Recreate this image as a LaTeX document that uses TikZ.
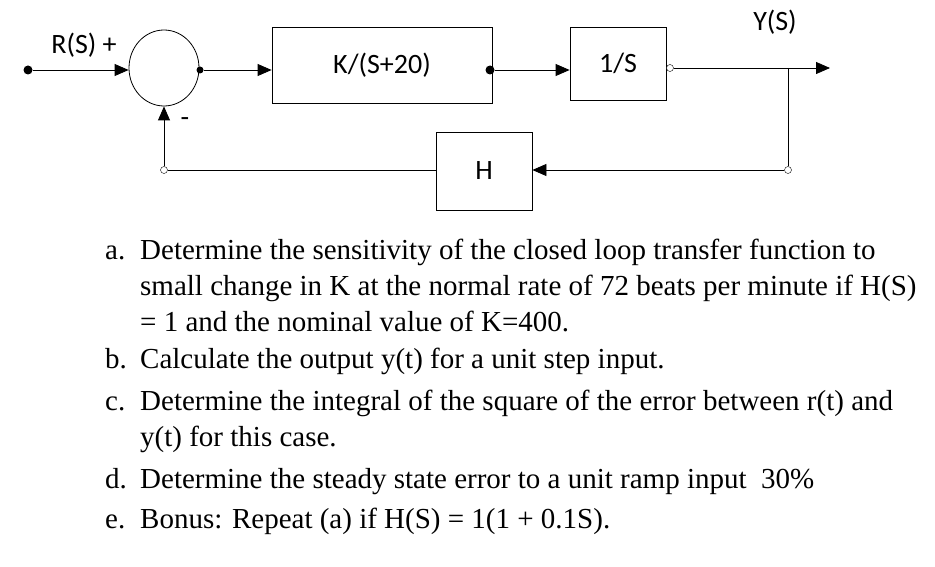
\documentclass[tikz,border=0pt]{standalone}
\usepackage{fontspec}
\setmainfont{Liberation Serif}
\newfontfamily\diag{Carlito}
\usetikzlibrary{arrows.meta,shapes.geometric}
\begin{document}
\begin{tikzpicture}[x=1pt,y=-1pt,
  blk/.style={draw,line width=0.8pt,inner sep=0pt,font=\diag\fontsize{28}{32}\selectfont},
  lab/.style={font=\diag\fontsize{28}{32}\selectfont},
  sig/.style={line width=0.8pt,-{Triangle[length=14pt,width=12pt]}},
  ln/.style={line width=0.8pt},
  txt/.style={anchor=base west,inner sep=0pt,font=\fontsize{29}{33}\selectfont}]
\useasboundingbox (0,0) rectangle (935,567);
\node[circle,fill,inner sep=0pt,minimum size=9pt] (in) at (28,70) {};
\node[draw,line width=0.8pt,ellipse,minimum width=70pt,minimum height=76pt,inner sep=0pt] (sum) at (164,68) {};
\node[circle,fill,inner sep=0pt,minimum size=7pt] (sumo) at (200,70) {};
\node[blk,minimum width=220pt,minimum height=76pt] (K) at (382,65) {K/(S+20)};
\node[circle,fill,inner sep=0pt,minimum size=9pt] (kd) at (490,70) {};
\node[blk,minimum width=96pt,minimum height=73pt] (I) at (618,63.5) {1/S};
\node[circle,draw,fill=white,inner sep=0pt,minimum size=7pt] (io) at (670,68) {};
\coordinate (out) at (830,68);
\coordinate (br) at (788,68);
\node[circle,draw,fill=white,inner sep=0pt,minimum size=7pt] (bo) at (788,170) {};
\node[blk,minimum width=96pt,minimum height=78pt] (H) at (484,171) {H};
\node[circle,draw,fill=white,inner sep=0pt,minimum size=7pt] (fo) at (164,170) {};
\node[lab] (r) at (84,45) {R(S) +};
\node[lab] (y) at (775,22) {Y(S)};
\node[lab] (m) at (185,122) {-};
\draw[sig] (in) -- (sum.west |- in);
\draw[sig] (sumo) -- (K.west |- sumo);
\draw[sig] (kd) -- (I.west |- kd);
\draw[sig] (io) -- (out);
\draw[ln] (br) -- (bo);
\draw[sig] (bo) -- (H.east |- bo);
\draw[ln] (H.west |- fo) -- (fo);
\draw[sig] (fo) -- (sum.south);
\node[txt] (la) at (105,259) {a.};
\node[txt] (ta) at (140,259) {Determine the sensitivity of the closed loop transfer function to};
\node[txt] (ta2) at (140,295) {small change in K at the normal rate of 72 beats per minute if H(S)};
\node[txt] (ta3) at (140,331) {= 1 and the nominal value of K=400.};
\node[txt] (lb) at (105,368) {b.};
\node[txt] (tb) at (140,368) {Calculate the output y(t) for a unit step input.};
\node[txt] (lc) at (105,410) {c.};
\node[txt] (tc) at (140,410) {Determine the integral of the square of the error between r(t) and};
\node[txt] (tc2) at (140,446) {y(t) for this case.};
\node[txt] (ld) at (105,488) {d.};
\node[txt] (td) at (140,488) {Determine the steady state error to a unit ramp input\ \ 30\%};
\node[txt] (le) at (105,528) {e.};
\node[txt] (te) at (140,528) {Bonus: Repeat (a) if H(S) = 1(1 + 0.1S).};
\end{tikzpicture}
\end{document}
